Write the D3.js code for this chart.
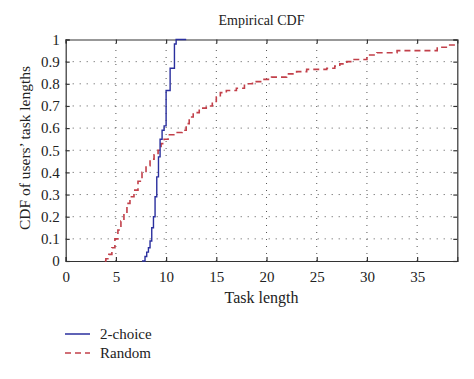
<!DOCTYPE html>
<html><head><meta charset="utf-8">
<script src="https://cdn.jsdelivr.net/npm/d3@7"></script>
<style>body{margin:0;background:#fff}svg{display:block}svg text{font-family:'Liberation Serif','Times New Roman',serif !important;fill:#222}</style>
</head><body><div id="c"></div>
<script>
const title = "Empirical CDF";
const xLabel = "Task length";
const yLabel = "CDF of users\u2019 task lengths";
const seriesNames = ["2-choice", "Random"];
const xTicks = [0,5,10,15,20,25,30,35];
const yTicks = [0,0.1,0.2,0.3,0.4,0.5,0.6,0.7,0.8,0.9,1];
// step points: x where the CDF jumps, p = CDF value after the jump
const choiceX = [7.6,7.9,8.07,8.24,8.4,8.57,8.74,8.9,9.07,9.24,9.4,9.6,9.8,10.0,10.4,10.83,11.0,12.0];
const choiceP = [0,0.02,0.04,0.06,0.09,0.15,0.2,0.29,0.38,0.47,0.55,0.59,0.61,0.77,0.87,0.98,1.0,1.0];
const randomX = [3.9,4.0,4.3,4.6,4.9,5.2,5.5,5.8,6.1,6.4,6.8,7.2,7.6,8.0,8.4,8.8,9.2,9.5,9.8,10.2,11.0,11.6,12.0,12.3,12.7,13.3,14.0,14.6,15.0,15.4,16.0,17.0,17.8,18.6,19.5,20.5,22.0,23.0,24.0,26.0,26.8,27.3,28.0,28.5,30.0,31.0,33.0,37.0,38.0,39.0];
const randomP = [0,0.01,0.03,0.06,0.1,0.14,0.18,0.22,0.26,0.29,0.32,0.36,0.4,0.43,0.46,0.48,0.5,0.53,0.55,0.57,0.58,0.59,0.62,0.65,0.67,0.69,0.7,0.72,0.74,0.76,0.77,0.78,0.8,0.81,0.82,0.83,0.845,0.855,0.865,0.87,0.88,0.89,0.9,0.91,0.93,0.94,0.95,0.965,0.975,0.975];

const W=474,H=379;
const m={l:65.7,r:474-457.3,t:39.5,b:379-261};
const svg=d3.select("#c").append("svg").attr("width",W).attr("height",H);
const x=d3.scaleLinear().domain([0,39]).range([m.l,W-m.r]);
const y=d3.scaleLinear().domain([0,1]).range([H-m.b,m.t]);
const axisCol="#333";

// grid
const g=svg.append("g");
g.selectAll(".gx").data(xTicks.slice(1)).join("line")
 .attr("x1",d=>x(d)).attr("x2",d=>x(d)).attr("y1",y(0)).attr("y2",y(1))
 .attr("stroke","#555").attr("stroke-width",1).attr("stroke-dasharray","1,6");
g.selectAll(".gy").data(yTicks.slice(1,-1)).join("line")
 .attr("x1",x(0)).attr("x2",x(39)).attr("y1",d=>y(d)).attr("y2",d=>y(d))
 .attr("stroke","#555").attr("stroke-width",1).attr("stroke-dasharray","1,6");

// axes
const fmt=d=>d===0||d===1?String(d):d3.format(".1f")(d);
const xa=svg.append("g").attr("transform",`translate(0,${y(0)})`).call(d3.axisBottom(x).tickValues(xTicks).tickSize(-4).tickPadding(10));
const xt=svg.append("g").attr("transform",`translate(0,${y(1)})`).call(d3.axisTop(x).tickValues(xTicks).tickSize(-4).tickFormat(""));
const ya=svg.append("g").attr("transform",`translate(${x(0)},0)`).call(d3.axisLeft(y).tickValues(yTicks).tickSize(-4).tickPadding(6).tickFormat(fmt));
const yr=svg.append("g").attr("transform",`translate(${x(39)},0)`).call(d3.axisRight(y).tickValues(yTicks).tickSize(-4).tickFormat(""));
[xa,xt,ya,yr].forEach(a=>{a.attr("font-family",null).attr("font-size",null);
 a.selectAll("path,line").attr("stroke",axisCol).attr("stroke-width",1.2);
 a.selectAll("text").style("font-size","15px").attr("fill","#222");});

// lines
const line=d3.line().x(d=>x(d[0])).y(d=>y(d[1])).curve(d3.curveStepAfter);
const choice=d3.zip(choiceX,choiceP);
const rnd=d3.zip(randomX,randomP);
svg.append("path").attr("d",line(rnd)).attr("fill","none").attr("stroke","#c2404a").attr("stroke-width",1.6).attr("stroke-dasharray","6,4");
svg.append("path").attr("d",line(choice)).attr("fill","none").attr("stroke","#2a2f9e").attr("stroke-width",1.4);

// text
svg.append("text").attr("x",(x(0)+x(39))/2).attr("y",25).attr("text-anchor","middle").style("font-size","14px").text(title);
svg.append("text").attr("x",(x(0)+x(39))/2).attr("y",303).attr("text-anchor","middle").style("font-size","16px").text(xLabel);
svg.append("text").attr("transform",`translate(30,148) rotate(-90)`).attr("text-anchor","middle").style("font-size","15.5px").text(yLabel);

// legend
const leg=svg.append("g");
const styles=[{c:"#2a2f9e",d:null},{c:"#c2404a",d:"6,4"}];
seriesNames.forEach((n,i)=>{
 const yy=334+i*19;
 leg.append("line").attr("x1",65).attr("x2",90).attr("y1",yy).attr("y2",yy).attr("stroke",styles[i].c).attr("stroke-width",1.5).attr("stroke-dasharray",styles[i].d);
 leg.append("text").attr("x",100).attr("y",yy+5).style("font-size","15px").text(n);
});
</script></body></html>
